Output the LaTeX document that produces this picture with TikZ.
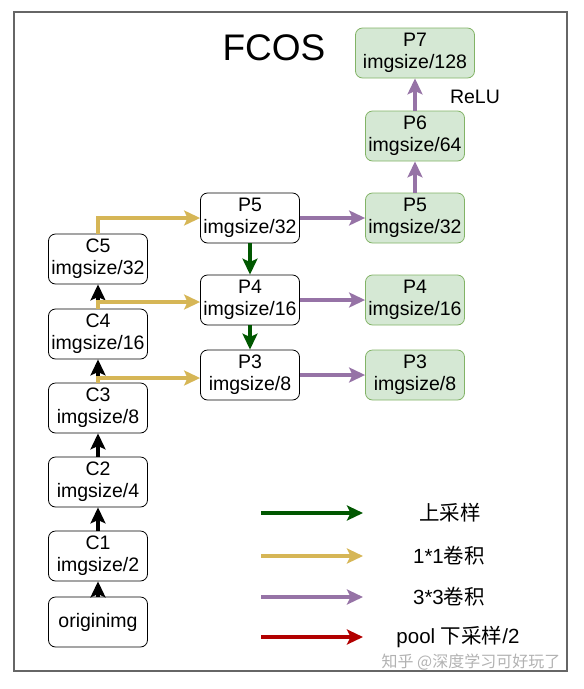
\documentclass[tikz,border=0pt]{standalone}
\usepackage{fontspec}
\setmainfont{Liberation Sans}
\newfontfamily\cjk{Noto Sans CJK SC}
\usetikzlibrary{arrows.meta}
\definecolor{yel}{HTML}{D6B656}
\definecolor{pur}{HTML}{9673A6}
\definecolor{dgreen}{HTML}{005700}
\definecolor{dred}{HTML}{B20000}
\definecolor{gfill}{HTML}{D5E8D4}
\definecolor{gline}{HTML}{82B366}
\definecolor{frame}{HTML}{666666}
\tikzset{
  box/.style={draw=black, rounded corners=7pt, minimum width=99pt, minimum height=50pt,
    inner sep=0pt, align=center, font=\fontsize{19.5}{22}\selectfont, line width=0.8pt},
  gbox/.style={box, draw=gline, fill=gfill},
  arr/.style={line width=3.6pt, -{Stealth[length=16pt,width=15pt,inset=3.5pt]}},
  blk/.style={arr, draw=black},
  yarr/.style={arr, draw=yel},
  parr/.style={arr, draw=pur},
  garr/.style={arr, draw=dgreen},
  rarr/.style={arr, draw=dred},
  leg/.style={font=\fontsize{20.5}{24}\selectfont, inner sep=0pt},
}
\begin{document}
\begin{tikzpicture}[x=1pt,y=-1pt]
\useasboundingbox (0,0) rectangle (584,689);
\draw[frame, line width=1.3pt] (14,12) rectangle (567,671);
\node[font=\fontsize{37}{40}\selectfont] (title) at (274,48) {FCOS};
% left column
\node[box] (c5) at (98,259) {C5\\imgsize/32};
\node[box] (c4) at (98,334) {C4\\imgsize/16};
\node[box] (c3) at (98,408) {C3\\imgsize/8};
\node[box] (c2) at (98,482) {C2\\imgsize/4};
\node[box] (c1) at (98,556) {C1\\imgsize/2};
\node[box] (orig) at (98,622) {originimg};
% middle column
\node[box] (p5) at (250,218) {P5\\imgsize/32};
\node[box] (p4) at (250,300) {P4\\imgsize/16};
\node[box] (p3) at (250,375) {P3\\imgsize/8};
% right column
\node[gbox] (q5) at (415,218) {P5\\imgsize/32};
\node[gbox] (q4) at (415,300) {P4\\imgsize/16};
\node[gbox] (q3) at (415,375) {P3\\imgsize/8};
\node[gbox] (p6) at (415,136) {P6\\imgsize/64};
\node[gbox, minimum width=119pt] (p7) at (415,53) {P7\\imgsize/128};
\node[font=\fontsize{19.5}{22}\selectfont] (relu) at (475,97) {ReLU};
% black backbone arrows
\draw[blk] (orig) -- (c1);
\draw[blk] (c1) -- (c2);
\draw[blk] (c2) -- (c3);
\draw[blk] (c3) -- (c4);
\draw[blk] (c4) -- (c5);
% lateral 1x1
\draw[yarr] (c5.north) |- (p5.west);
\draw[yarr] (c4.north) |- ([yshift=-2pt]p4.west);
\draw[yarr] (c3.north) |- ([yshift=-3pt]p3.west);
% top-down
\draw[garr] (p5) -- (p4);
\draw[garr] (p4) -- (p3);
% 3x3
\draw[parr] (p5) -- (q5);
\draw[parr] (p4) -- (q4);
\draw[parr] (p3) -- (q3);
\draw[parr] (q5) -- (p6);
\draw[parr] (p6) -- (p7);
% legend
\coordinate (l1a) at (261,513); \coordinate (l1b) at (363,513);
\coordinate (l2a) at (261,556); \coordinate (l2b) at (363,556);
\coordinate (l3a) at (261,597); \coordinate (l3b) at (363,597);
\coordinate (l4a) at (261,637); \coordinate (l4b) at (363,637);
\draw[garr] (l1a) -- (l1b);
\draw[yarr] (l2a) -- (l2b);
\draw[parr] (l3a) -- (l3b);
\draw[rarr] (l4a) -- (l4b);
\node[leg] (t1) at (450,513) {\cjk 上采样};
\node[leg] (t2) at (449,556) {1*1{\cjk 卷积}};
\node[leg] (t3) at (449,597) {3*3{\cjk 卷积}};
\node[leg] (t4) at (458,637) {pool {\cjk 下采样}/2};
\node[font=\fontsize{16}{18}\selectfont\cjk, text=black!30, inner sep=0pt] (wm) at (471,662) {知乎 @深度学习可好玩了};
\end{tikzpicture}
\end{document}
